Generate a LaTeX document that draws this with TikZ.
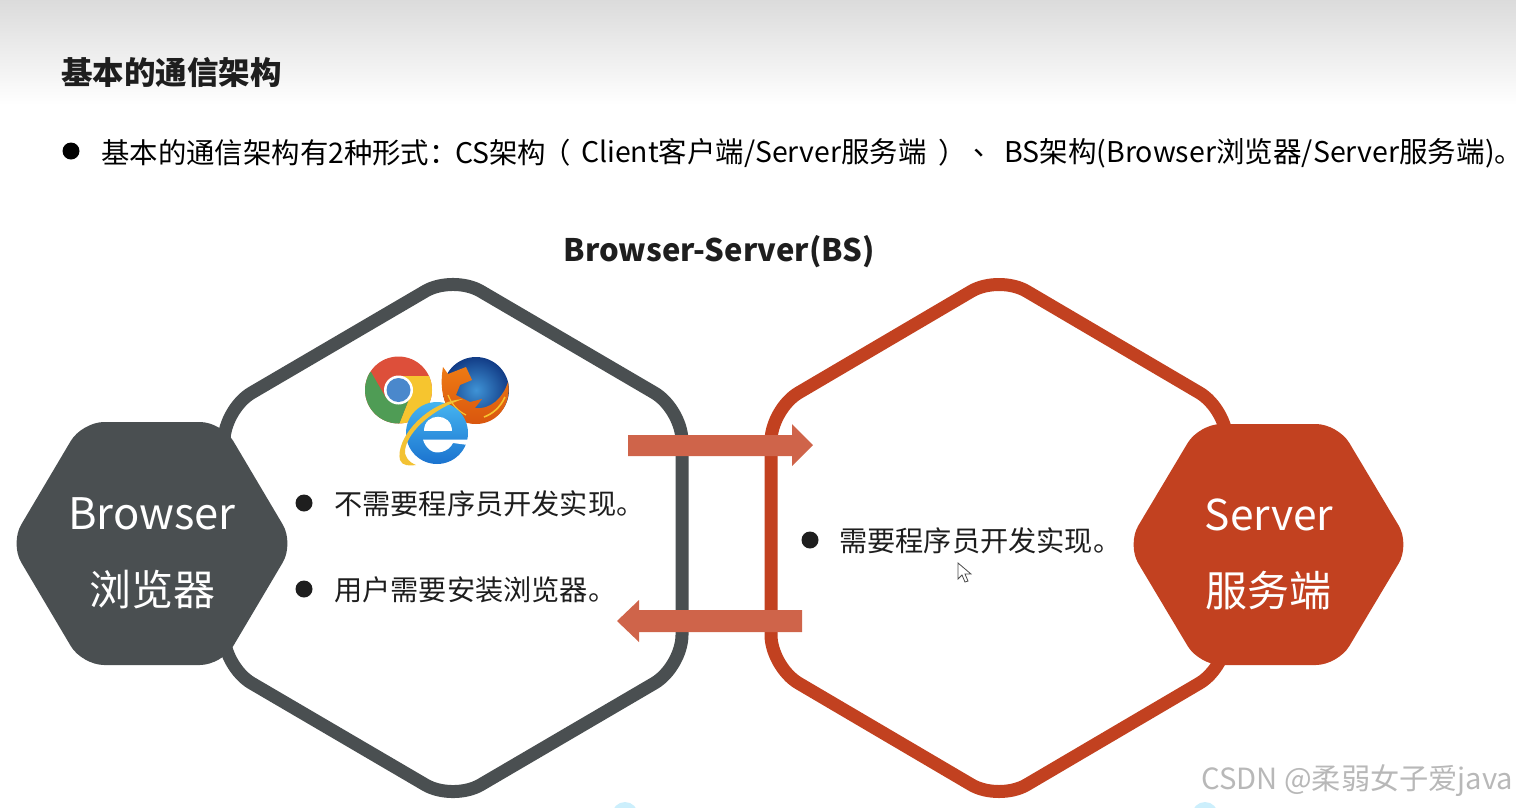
\documentclass[tikz,border=0pt]{standalone}
\usepackage{fontspec}
\setmainfont{Noto Sans CJK SC}
\usetikzlibrary{calc}
\definecolor{dk}{HTML}{4A4F51}
\definecolor{rd}{HTML}{C24120}
\definecolor{ar}{HTML}{CF644A}
\definecolor{tx}{HTML}{1E1E1E}
\definecolor{chr}{HTML}{DD4F3A}
\definecolor{chy}{HTML}{F6C52F}
\definecolor{chg}{HTML}{4F9C55}
\definecolor{chb}{HTML}{4A88CC}
\definecolor{ffo}{HTML}{EE7A14}
\definecolor{ffd}{HTML}{D9560E}
\definecolor{ffn}{HTML}{123C86}
\definecolor{ffc}{HTML}{3F93D6}
\definecolor{iel}{HTML}{45B4F0}
\definecolor{ied}{HTML}{1B73CF}
\definecolor{iey}{HTML}{F3C233}
\tikzset{
  x=1pt,y=-1pt,
  ring/.style={line width=13pt,rounded corners=32pt,line join=round},
  hexa/.style={rounded corners=22pt},
  bigarrow/.style={fill=ar,draw=none},
  lbl/.style={anchor=west,inner sep=0pt,text=tx,font=\fontsize{28.2}{28}\selectfont},
  mainseg/.style={anchor=west,inner sep=0pt,text=black,font=\fontsize{28.4}{28}\selectfont},
  hexlbl/.style={inner sep=0pt,text=white,font=\fontsize{42}{42}\selectfont},
  dot/.style={circle,fill=tx,inner sep=0pt,minimum size=17pt},
}
\begin{document}
\begin{tikzpicture}
\useasboundingbox (0,0) rectangle (1516,807);
\shade[top color=black!14,bottom color=white] (0,0) rectangle (1516,105);
\fill[cyan!20] (625,815) circle (13);
\fill[cyan!20] (1205,815) circle (13);
\node[anchor=west,inner sep=0pt,text=tx,font=\fontsize{31.5}{31}\selectfont\bfseries] (title) at (61,73) {基本的通信架构};
\node[circle,fill=black,inner sep=0pt,minimum size=17pt] (b0) at (71,151) {};
\node[mainseg] (m1) at (101,153) {基本的通信架构有2种形式：};
\node[mainseg] (m2) at (455,153) {CS架构};
\node[mainseg] (m3) at (542,153) {（};
\node[mainseg] (m4) at (581,153) {Client客户端/Server服务端};
\node[mainseg] (m5) at (938,153) {）};
\node[mainseg] (m6) at (973,153) {、};
\node[mainseg,font=\fontsize{28.55}{28}\selectfont] (m7) at (1004,153) {BS架构(Browser浏览器/Server服务端)\rlap{。}};
\node[inner sep=0pt,text=tx,font=\fontsize{31}{31}\selectfont\bfseries] (bs) at (719,252) {Browser-Server(BS)};
% rings
\draw[ring,dk] (453,275)--(682,409)--(682,667)--(453,801)--(224,667)--(224,409)--cycle;
\draw[ring,rd] (999,275)--(1227,409)--(1227,667)--(999,801)--(771,667)--(771,409)--cycle;
% small hexagons
\fill[dk,hexa] (82,422)--(222,422)--(294,543.5)--(222,665)--(82,665)--(10,543.5)--cycle;
\fill[rd,hexa] (1199,424)--(1338,424)--(1410,544.5)--(1338,665)--(1199,665)--(1127,544.5)--cycle;
\node[hexlbl,font=\fontsize{43.5}{44}\selectfont] (br) at (152,514) {Browser};
\node[hexlbl] (brc) at (152,590) {浏览器};
\node[hexlbl,font=\fontsize{42.5}{43}\selectfont] (sv) at (1269,515) {Server};
\node[hexlbl] (svc) at (1268,591) {服务端};
% arrows
\fill[bigarrow] (628,435)--(792,435)--(792,424)--(813,445)--(792,466)--(792,456)--(628,456)--cycle;
\fill[bigarrow] (802,610)--(639,610)--(639,600)--(617,621)--(639,642)--(639,632)--(802,632)--cycle;
% bullets
\node[dot] (b1) at (304,503) {};
\node[lbl] (t1) at (334,504) {不需要程序员开发实现。};
\node[dot] (b2) at (304,589) {};
\node[lbl] (t2) at (334,590) {用户需要安装浏览器。};
\node[dot] (b3) at (810,540) {};
\node[lbl] (t3) at (839,541) {需要程序员开发实现。};
% chrome icon
\begin{scope}
\clip (398.5,390) circle (33.5);
\fill[chr] (360,350) rectangle (440,430);
\fill[chy] (398,376)--(440,376)--(440,432)--(396,432)--(409,399)--cycle;
\fill[chg] (371,372)--(386,398)--(409,399)--(396,432)--(350,432)--(350,372)--cycle;
\end{scope}
\fill[white] (398.5,390) circle (14.5);
\fill[chb] (398.5,390) circle (12);
% firefox icon
\shade[inner color=ffc,outer color=ffn] (476,390) circle (33);
\shade[top color=ffo,bottom color=ffd] (443,367) -- (448,374) -- (466,367) -- (472,380) -- (460,385) -- (456,395) -- (470,402) -- (482,399) -- (475,408) .. controls (490,410) and (503,398) .. (508,382) .. controls (512,405) and (497,424) .. (476,424) .. controls (452,424) and (437,402) .. (443,367) -- cycle;
\draw[chy,line width=1.6pt] (505,397) .. controls (500,408) and (492,414) .. (484,417);
\draw[chy,line width=1.2pt] (448,395) .. controls (452,405) and (458,411) .. (466,415);
% IE icon
\shade[top color=iel,bottom color=ied] (437,433) circle (31);
\fill[white] (424,431) .. controls (424,412) and (452,412) .. (452,431) -- cycle;
\fill[white] (423,439.5) -- (468,439.5) -- (468,445) -- (453,443) .. controls (449,452) and (436,455) .. (430,450) .. controls (426,447) and (424,443) .. (423,439.5) -- cycle;
\fill[iey] (463,399) .. controls (425,402) and (395,440) .. (400,460) .. controls (402,466) and (410,466) .. (416,465) .. controls (408,462) and (404,455) .. (405,450) .. controls (408,430) and (435,408) .. (463,399) -- cycle;
% cursor
\draw[black!70,fill=white,line width=.8pt] (958,563)--(958,579)--(962,575)--(965,582)--(968,581)--(965,574)--(971,574)--cycle;
% watermark
\node[anchor=west,inner sep=0pt,text=black!28,font=\fontsize{29.2}{29}\selectfont] (wm) at (1201,781) {CSDN @柔弱女子爱java};
\end{tikzpicture}
\end{document}
